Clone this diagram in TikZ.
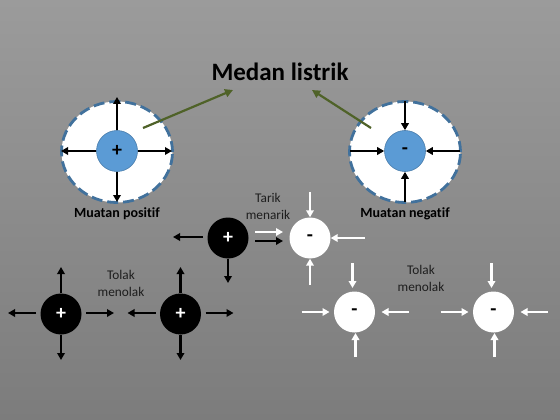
\documentclass[tikz,border=0pt]{standalone}
\usepackage{fontspec}
\setmainfont[Ligatures={NoCommon}]{Carlito}
\usetikzlibrary{arrows.meta,shapes.geometric}
\definecolor{bgtop}{RGB}{155,155,155}
\definecolor{bgbot}{RGB}{124,124,124}
\definecolor{fieldblue}{RGB}{91,155,213}
\definecolor{dashblue}{RGB}{65,113,156}
\definecolor{olive}{RGB}{79,98,40}
\definecolor{txtgray}{RGB}{30,30,30}
\tikzset{
  arrB/.style={black,line width=2.2pt,-{Triangle[length=7pt,width=7.5pt]}},
  arrW/.style={white,line width=2.2pt,-{Triangle[length=7pt,width=7.5pt]}},
  arrG/.style={olive,line width=2.2pt,-{Triangle[length=8pt,width=8pt]}},
  outer/.style={ellipse,draw=dashblue,fill=white,line width=2.8pt,dash pattern=on 11pt off 5pt,minimum width=111pt,minimum height=101pt,inner sep=0pt},
  inner/.style={circle,fill=fieldblue,draw=fieldblue!80!black,line width=0.6pt,minimum size=41pt,inner sep=0pt,font=\bfseries\fontsize{20}{20}\selectfont},
  blackq/.style={circle,fill=black,minimum size=41pt,inner sep=0pt,text=white,font=\bfseries\fontsize{20}{20}\selectfont},
  whiteq/.style={circle,fill=white,minimum size=41pt,inner sep=0pt,text=black,font=\bfseries\fontsize{20}{20}\selectfont},
  lbl/.style={font=\bfseries\fontsize{14}{16}\selectfont,text=black},
  small/.style={font=\fontsize{13.3}{17}\selectfont,text=txtgray,align=center}
}
\begin{document}
\begin{tikzpicture}[x=1pt,y=-1pt]
\useasboundingbox (0,0) rectangle (560,420);
\shade[top color=bgtop,bottom color=bgbot] (0,0) rectangle (560,420);
% title
\node[font=\bfseries\fontsize{25}{27}\selectfont] (title) at (280,72) {Medan listrik};
\coordinate (tl) at (233,90);
\coordinate (tr) at (312,90);
% positive field
\node[outer] (o1) at (117,152) {};
\node[inner] (c1) at (117,151) {+};
\draw[arrB] (c1.north) -- (117,97);
\draw[arrB] (c1.south) -- (117,202);
\draw[arrB] (c1.west) -- (61,151);
\draw[arrB] (c1.east) -- (172,151);
\node[lbl] (l1) at (117,214) {Muatan posit\kern0pt if};
% negative field
\node[outer] (o2) at (405,152) {};
\node[inner] (c2) at (405,151) {-};
\draw[arrB] (405,101) -- (c2.north);
\draw[arrB] (405,202) -- (c2.south);
\draw[arrB] (350,151) -- (c2.west);
\draw[arrB] (460,151) -- (c2.east);
\node[lbl] (l2) at (405,214) {Muatan negat\kern0pt if};
% green pointers
\draw[arrG] (143,128) -- (tl);
\draw[arrG] (371,128) -- (tr);
% attraction
\node[blackq] (m1) at (228,238) {+};
\node[whiteq] (n1) at (310,238) {-};
\node[small] (tk) at (268,206) {Tarik\\menarik};
\draw[arrB] (203,237) -- (173,237);
\draw[arrB] (m1.south) -- (228,283);
\draw[arrW] (255,232) -- (283,232);
\draw[arrB] (255,241) -- (283,241);
\draw[arrW] (310,192) -- (n1.north);
\draw[arrW] (365,238) -- (n1.east);
\draw[arrW] (310,285) -- (n1.south);
% repulsion positive
\node[blackq] (p2) at (61,314) {+};
\node[blackq] (p3) at (180.5,314) {+};
\node[small] (tl1) at (121,283) {Tolak\\menolak};
\foreach \p/\x in {p2/61,p3/180.5}{
  \draw[arrB] (\p.north) -- (\x,267);
  \draw[arrB] (\p.south) -- (\x,360);
  \draw[arrB] (\x-25,313) -- (\x-53,313);
  \draw[arrB] (\x+25,313) -- (\x+53,313);
}
% repulsion negative
\node[whiteq] (n2) at (354.5,312) {-};
\node[whiteq] (n3) at (493.5,312) {-};
\node[small] (tl2) at (421,278) {Tolak\\menolak};
\foreach \p/\x in {n2/354.5,n3/493.5}{
  \draw[arrW] (\x-2,263) -- (\x-2,288);
  \draw[arrW] (\x+1,357) -- (\x+1,333);
  \draw[arrW] (\x-53,312) -- (\x-25,312);
  \draw[arrW] (\x+54,312) -- (\x+27,312);
}
\end{tikzpicture}
\end{document}
